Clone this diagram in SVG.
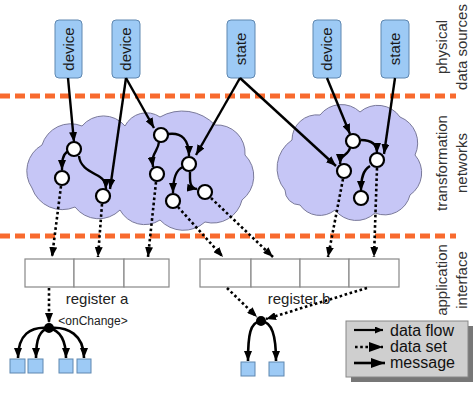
<svg xmlns="http://www.w3.org/2000/svg" width="474" height="407" viewBox="0 0 474 407">
<style>
.src rect{fill:#9dcaf5;stroke:#5f87b0;stroke-width:1}
.src text{font-family:"Liberation Sans",Arial,sans-serif;font-size:15px;fill:#1a1a1a;text-anchor:middle}
.lab{font-family:"Liberation Sans",Arial,sans-serif;font-size:15px;fill:#333;text-anchor:middle}
.sep{stroke:#f86a2e;stroke-width:5;stroke-dasharray:10 5;fill:none}
.cloud{fill:#c6c6f6;stroke:#7a7a9a;stroke-width:1}
.node circle{fill:#fff;stroke:#000;stroke-width:2.2}
.flow{fill:none;stroke:#000;stroke-width:2.4;marker-end:url(#ah)}
.msg{fill:none;stroke:#000;stroke-width:2.6;marker-end:url(#ah)}
.set{fill:none;stroke:#000;stroke-width:2.6;stroke-dasharray:2.6 2.6;marker-end:url(#ah)}
.reg rect{fill:#fff;stroke:#888;stroke-width:1.2}
.reg text{font-family:"Liberation Sans",Arial,sans-serif;font-size:15px;fill:#222;text-anchor:middle}
.app{fill:#9dcaf5;stroke:#5f87b0;stroke-width:1}
.leg text{font-family:"Liberation Sans",Arial,sans-serif;font-size:16px;fill:#111}
</style>
<defs>
<marker id="ah" markerUnits="userSpaceOnUse" markerWidth="10" markerHeight="8" refX="10" refY="4" orient="auto">
<path d="M0,0 L10,4 L0,8 z" fill="#000"/>
</marker>
<marker id="ahs" markerUnits="userSpaceOnUse" markerWidth="8" markerHeight="7" refX="8" refY="3.5" orient="auto">
<path d="M0,0 L8,3.5 L0,7 z" fill="#000"/>
</marker>
<marker id="ahl" markerUnits="userSpaceOnUse" markerWidth="14" markerHeight="10" refX="14" refY="5" orient="auto">
<path d="M0,0 L14,5 L0,10 z" fill="#000"/>
</marker>
</defs>

<!-- layer labels -->
<g id="labels">
<text class="lab" transform="translate(447,47) rotate(-90)">physical</text>
<text class="lab" transform="translate(467,47) rotate(-90)">data sources</text>
<text class="lab" transform="translate(447,163) rotate(-90)">transformation</text>
<text class="lab" transform="translate(467,163) rotate(-90)">networks</text>
<text class="lab" transform="translate(447,280) rotate(-90)">application</text>
<text class="lab" transform="translate(467,280) rotate(-90)">interface</text>
</g>

<!-- separators -->
<line class="sep" x1="0" y1="96" x2="456" y2="96"/>
<line class="sep" x1="0" y1="236" x2="456" y2="236"/>

<!-- clouds -->
<g id="cloud-left">
<path class="cloud" d="M32,188 A30 30 0 0 1 42,145 A30 30 0 0 1 82,126 A28 28 0 0 1 125,126 A24 24 0 0 1 160,117 A45 45 0 0 1 215,125 A28 28 0 0 1 245,155 A30 30 0 0 1 242,200 A30 30 0 0 1 205,222 A32 32 0 0 1 160,220 A28 28 0 0 1 120,210 A30 30 0 0 1 75,207 A32 32 0 0 1 32,188 Z"/>
</g>
<g id="cloud-right">
<path class="cloud" d="M285,190 A34 34 0 0 1 292,140 A25 25 0 0 1 320,115 A27 27 0 0 1 360,112 A27 27 0 0 1 400,117 A28 28 0 0 1 415,155 A27 27 0 0 1 410,195 A26 26 0 0 1 375,213 A27 27 0 0 1 335,210 A24 24 0 0 1 300,205 A15 15 0 0 1 285,190 Z"/>
</g>

<!-- sources -->
<g id="src-device1" class="src"><rect x="55" y="20" width="27" height="58" rx="4"/><text transform="translate(73.5,49) rotate(-90)">device</text></g>
<g id="src-device2" class="src"><rect x="112" y="20" width="28" height="58" rx="4"/><text transform="translate(131,49) rotate(-90)">device</text></g>
<g id="src-state1" class="src"><rect x="227" y="20" width="28" height="58" rx="4"/><text transform="translate(246,49) rotate(-90)">state</text></g>
<g id="src-device3" class="src"><rect x="313" y="20" width="28" height="58" rx="4"/><text transform="translate(332,49) rotate(-90)">device</text></g>
<g id="src-state2" class="src"><rect x="381" y="20" width="28" height="58" rx="4"/><text transform="translate(400,49) rotate(-90)">state</text></g>

<!-- registers -->
<g id="register-a" class="reg">
<rect x="25" y="259" width="49" height="28"/><rect x="74" y="259" width="50" height="28"/><rect x="124" y="259" width="45" height="28"/>
<text x="97" y="304">register a</text>
</g>
<g id="register-b" class="reg">
<rect x="200" y="259" width="51" height="28"/><rect x="251" y="259" width="49" height="28"/><rect x="300" y="259" width="49" height="28"/><rect x="349" y="259" width="50" height="28"/>
<text x="299" y="304">register b</text>
</g>
<text x="93" y="325" font-family="'Liberation Sans',Arial,sans-serif" font-size="12" fill="#222" text-anchor="middle">&lt;onChange&gt;</text>

<!-- connectors -->
<g id="connectors">
<!-- data flow from sources -->
<path class="flow" d="M68,78 L74,142"/>
<path class="flow" d="M126,78 L110,189"/>
<path class="flow" d="M126,78 L154,128"/>
<path class="flow" d="M240,78 L196,155"/>
<path class="flow" d="M240,78 L336,166"/>
<path class="flow" d="M327,78 L350,134"/>
<path class="flow" d="M395,78 L384,154"/>
<!-- internal -->
<path class="flow" d="M68,151 C62,155 62,162 62,170"/>
<path class="flow" d="M79,156 C80,168 92,172 100,177 C105,180 106,184 106,189"/>
<path class="flow" d="M159,142 C158,152 151,152 153,167"/>
<path class="flow" d="M168,134 C182,132 189,140 189,156"/>
<path class="flow" d="M183,167 C175,170 173,180 173,193"/>
<path class="flow" d="M190,172 C190,180 189,188 197,189"/>
<path class="flow" d="M350,148 C348,156 340,154 340,164"/>
<path class="flow" d="M361,140 C372,140 377,144 377,153"/>
<path class="flow" d="M370,166 C363,170 361,178 361,191"/>
<!-- data sets -->
<path class="set" d="M61,186 L52,257"/>
<path class="set" d="M102,204 L98,257"/>
<path class="set" d="M156,182 L148,257"/>
<path class="set" d="M178,207 L223,257"/>
<path class="set" d="M211,198 L273,257"/>
<path class="set" d="M343,179 L328,257"/>
<path class="set" d="M377,168 L374,257"/>
<path class="set" d="M49,288 L49,323"/>
<path class="set" d="M227,288 L257,317"/>
<path class="set" d="M367,288 L266,319"/>
<!-- messages -->
<path class="msg" d="M49,328 C30,326 18,335 18,358"/>
<path class="msg" d="M49,328 C40,330 36,338 36,358"/>
<path class="msg" d="M49,328 C58,330 66,338 66,358"/>
<path class="msg" d="M49,328 C68,326 84,335 84,358"/>
<path class="msg" d="M261,321 C250,322 248,335 248,361"/>
<path class="msg" d="M261,321 C272,322 276,335 276,361"/>
</g>

<!-- nodes -->
<g id="n-a1" class="node"><circle cx="74" cy="149" r="7"/></g>
<g id="n-a2" class="node"><circle cx="62" cy="178" r="7"/></g>
<g id="n-a3" class="node"><circle cx="103" cy="196" r="7"/></g>
<g id="n-b1" class="node"><circle cx="161" cy="135" r="7"/></g>
<g id="n-b2" class="node"><circle cx="157" cy="174" r="7"/></g>
<g id="n-b3" class="node"><circle cx="189" cy="164" r="7"/></g>
<g id="n-b4" class="node"><circle cx="173" cy="201" r="7"/></g>
<g id="n-b5" class="node"><circle cx="205" cy="192" r="7"/></g>
<g id="n-c1" class="node"><circle cx="353" cy="141" r="7"/></g>
<g id="n-c2" class="node"><circle cx="344" cy="171" r="7"/></g>
<g id="n-c3" class="node"><circle cx="377" cy="160" r="7"/></g>
<g id="n-c4" class="node"><circle cx="361" cy="198" r="7"/></g>

<!-- dispatch points -->
<g id="dot-a"><circle cx="49" cy="328" r="5" fill="#000"/></g>
<g id="dot-b"><circle cx="261" cy="321" r="5" fill="#000"/></g>

<!-- application objects -->
<g id="app-a1"><rect class="app" x="10" y="359" width="15" height="14"/></g>
<g id="app-a2"><rect class="app" x="28" y="359" width="15" height="14"/></g>
<g id="app-a3"><rect class="app" x="59" y="359" width="14" height="14"/></g>
<g id="app-a4"><rect class="app" x="77" y="359" width="14" height="14"/></g>
<g id="app-b1"><rect class="app" x="241" y="362" width="14" height="14"/></g>
<g id="app-b2"><rect class="app" x="269" y="362" width="15" height="14"/></g>

<!-- legend -->
<g id="legend" class="leg">
<rect x="351" y="326" width="122" height="56" fill="#777"/>
<rect x="346" y="321" width="122" height="56" fill="#cfcfcf" stroke="#888" stroke-width="1"/>
<line x1="354" y1="330" x2="383" y2="330" stroke="#000" stroke-width="2.2" marker-end="url(#ahs)"/>
<line x1="355" y1="347" x2="383" y2="347" stroke="#000" stroke-width="2.6" stroke-dasharray="2.6 2.6" marker-end="url(#ahl)"/>
<line x1="354" y1="363" x2="385" y2="363" stroke="#000" stroke-width="2.6" marker-end="url(#ahl)"/>
<text x="390" y="336">data flow</text>
<text x="390" y="352">data set</text>
<text x="390" y="368">message</text>
</g>
</svg>
